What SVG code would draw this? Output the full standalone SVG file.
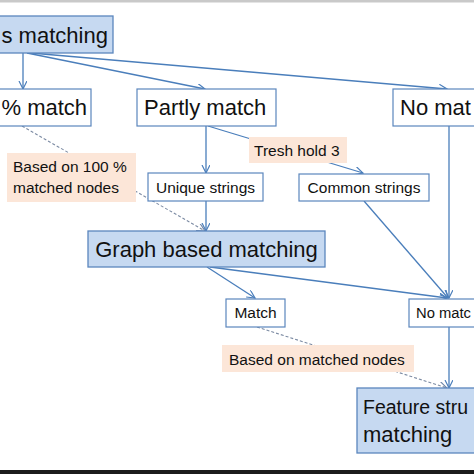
<svg xmlns="http://www.w3.org/2000/svg" width="474" height="474" viewBox="0 0 474 474">
<defs>
<marker id="arr" markerWidth="10" markerHeight="10" refX="8" refY="4" orient="auto" markerUnits="userSpaceOnUse">
<path d="M0,0 L8,4 L0,8" fill="none" stroke="#4a7ebb" stroke-width="1.2"/>
</marker>
<marker id="arrd" markerWidth="10" markerHeight="10" refX="8" refY="4" orient="auto" markerUnits="userSpaceOnUse">
<path d="M0,0 L8,4 L0,8" fill="none" stroke="#6f86a8" stroke-width="1.1"/>
</marker>
<style>
.big{fill:#c6d9f1;stroke:#5b86bd;stroke-width:1.3}
.box{fill:#ffffff;stroke:#5b86bd;stroke-width:1.2}
.note{fill:#fce6d8;stroke:none}
.tl{font-family:"Liberation Sans",Arial,sans-serif;font-size:22px;fill:#111}
.ts{font-family:"Liberation Sans",Arial,sans-serif;font-size:15.5px;fill:#111}
.c{fill:none;stroke:#4a7ebb;stroke-width:1.3;marker-end:url(#arr)}
.d{fill:none;stroke:#7c8ba3;stroke-width:1.1;stroke-dasharray:3,2;marker-end:url(#arrd)}
</style>
</defs>
<rect x="0" y="0" width="474" height="474" fill="#ffffff"/>
<rect x="0" y="0" width="474" height="2.5" fill="#c9c9c9"/>
<g id="connectors">
<line class="d" x1="22" y1="126" x2="205" y2="231"/>
<line class="d" x1="257" y1="327" x2="447" y2="388"/>
<line class="c" x1="23" y1="53" x2="23" y2="89"/>
<line class="c" x1="27" y1="53" x2="205" y2="89"/>
<line class="c" x1="31" y1="53" x2="447" y2="89"/>
<line class="c" x1="206" y1="126" x2="206" y2="173"/>
<line class="c" x1="208" y1="126" x2="363" y2="173"/>
<line class="c" x1="449" y1="126" x2="449" y2="298"/>
<line class="c" x1="206" y1="201" x2="206" y2="231"/>
<line class="c" x1="364" y1="201" x2="448" y2="298"/>
<line class="c" x1="207" y1="267" x2="255" y2="298"/>
<line class="c" x1="210" y1="267" x2="447" y2="298"/>
<line class="c" x1="449" y1="327" x2="449" y2="388"/>
</g>
<g id="n-strings-matching">
<rect class="big" x="-5" y="16" width="118" height="37"/>
<text class="tl" x="1.5" y="43">s matching</text>
</g>
<g id="n-100-match">
<rect class="box" x="-5" y="89" width="96" height="37"/>
<text class="tl" x="1.5" y="115">% match</text>
</g>
<g id="n-partly-match">
<rect class="box" x="137" y="89" width="139" height="37"/>
<text class="tl" x="144" y="115">Partly match</text>
</g>
<g id="n-no-match-top">
<rect class="box" x="393" y="89" width="90" height="37"/>
<text class="tl" x="400" y="115">No mat</text>
</g>
<g id="n-note-100">
<rect class="note" x="7" y="153" width="129" height="49"/>
<text class="ts" x="13" y="172">Based on 100 %</text>
<text class="ts" x="13" y="193">matched nodes</text>
</g>
<g id="n-tresh">
<rect class="note" x="249" y="137" width="98" height="26"/>
<text class="ts" x="254" y="156">Tresh hold 3</text>
</g>
<g id="n-unique">
<rect class="box" x="148" y="173" width="115" height="28"/>
<text class="ts" x="205.5" y="193" text-anchor="middle">Unique strings</text>
</g>
<g id="n-common">
<rect class="box" x="299" y="174" width="130" height="27"/>
<text class="ts" x="364" y="193" text-anchor="middle">Common strings</text>
</g>
<g id="n-graph">
<rect class="big" x="88" y="231" width="237" height="36"/>
<text class="tl" x="206.5" y="257" text-anchor="middle">Graph based matching</text>
</g>
<g id="n-match">
<rect class="box" x="226" y="299" width="59" height="28"/>
<text class="ts" x="255.5" y="318" text-anchor="middle">Match</text>
</g>
<g id="n-no-match-bottom">
<rect class="box" x="409" y="299" width="75" height="28"/>
<text class="ts" x="416" y="318" textLength="55" lengthAdjust="spacingAndGlyphs">No matc</text>
</g>
<g id="n-note-matched">
<rect class="note" x="222" y="345" width="192" height="27"/>
<text class="ts" x="229" y="365">Based on matched nodes</text>
</g>
<g id="n-feature">
<rect class="big" x="357" y="388" width="127" height="65"/>
<text class="tl" x="363" y="414" style="font-size:19.5px">Feature stru</text>
<text class="tl" x="363" y="442">matching</text>
</g>
<rect x="0" y="470" width="474" height="4" fill="#1c1c1c"/>
</svg>
